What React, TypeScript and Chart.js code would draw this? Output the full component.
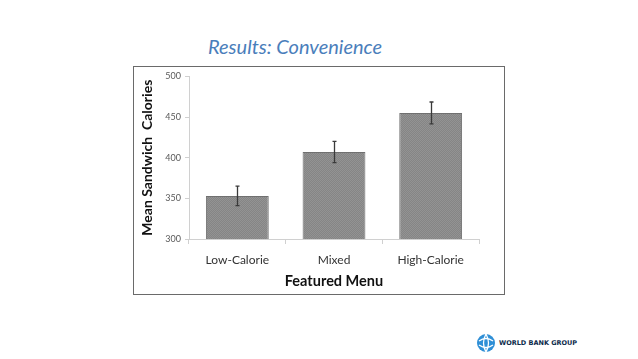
import React, { useEffect, useRef } from "react";
import { Chart, registerables } from "chart.js";

Chart.register(...registerables);

const categories = ["Low-Calorie", "Mixed", "High-Calorie"];
const meanCalories = [353, 407, 455];
const errorMargins = [12, 13, 13.5];
const yTicks = [300, 350, 400, 450, 500];

const FONT = "Lato, 'Open Sans', sans-serif";

function makePattern(): CanvasPattern | string {
  const c = document.createElement("canvas");
  c.width = 2;
  c.height = 2;
  const g = c.getContext("2d");
  if (!g) return "#8c8c8c";
  g.fillStyle = "#939393";
  g.fillRect(0, 0, 2, 2);
  g.fillStyle = "#858585";
  g.fillRect(0, 0, 1, 1);
  g.fillRect(1, 1, 1, 1);
  const p = g.createPattern(c, "repeat");
  return p || "#8c8c8c";
}

const errorBarPlugin = {
  id: "errorBars",
  afterDatasetsDraw(chart: any) {
    const { ctx, scales } = chart;
    const meta = chart.getDatasetMeta(0);
    const y = scales.y;
    ctx.save();
    ctx.strokeStyle = "#3a3a3a";
    ctx.lineWidth = 1.3;
    meta.data.forEach((bar: any, i: number) => {
      const v = meanCalories[i];
      const e = errorMargins[i];
      const x = Math.round(bar.x) + 0.5;
      const yt = y.getPixelForValue(v + e);
      const yb = y.getPixelForValue(v - e);
      ctx.beginPath();
      ctx.moveTo(x, yt);
      ctx.lineTo(x, yb);
      ctx.moveTo(x - 2, yt);
      ctx.lineTo(x + 2, yt);
      ctx.moveTo(x - 2, yb);
      ctx.lineTo(x + 2, yb);
      ctx.stroke();
    });
    ctx.restore();
  },
};

export default function App() {
  const ref = useRef<HTMLCanvasElement | null>(null);

  useEffect(() => {
    if (!ref.current) return;
    const chart = new Chart(ref.current, {
      type: "bar",
      data: {
        labels: categories,
        datasets: [
          {
            data: meanCalories,
            backgroundColor: makePattern() as any,
            borderColor: "#707070",
            borderWidth: 1,
            barPercentage: 0.65,
            categoryPercentage: 1,
          },
        ],
      },
      options: {
        animation: false,
        responsive: false,
        maintainAspectRatio: false,
        layout: { padding: { top: 8, right: 25, left: 0, bottom: 0 } },
        plugins: {
          legend: { display: false },
          tooltip: { enabled: false },
          title: { display: false },
        },
        scales: {
          x: {
            grid: {
              display: true,
              drawOnChartArea: false,
              drawTicks: true,
              tickLength: 5,
              color: "#d0d0d0",
              offset: true,
            },
            border: { display: true, color: "#d0d0d0" },
            ticks: {
              color: "#333333",
              font: { family: FONT, size: 12 },
              padding: 9,
            },
            title: {
              display: true,
              text: "Featured Menu",
              color: "#111111",
              font: { family: FONT, size: 14.5, weight: "bold" },
              padding: { top: 4, bottom: 5 },
            },
            afterFit: (s: any) => {
              s.height = 56;
            },
          },
          y: {
            min: 300,
            max: 500,
            afterBuildTicks: (s: any) => {
              s.ticks = yTicks.map((v) => ({ value: v }));
            },
            grid: {
              display: true,
              drawOnChartArea: false,
              drawTicks: true,
              tickLength: 4,
              color: "#d0d0d0",
            },
            border: { display: true, color: "#d0d0d0" },
            ticks: {
              color: "#595959",
              font: { family: FONT, size: 9 },
              padding: 4,
            },
            title: {
              display: true,
              text: "Mean Sandwich  Calories",
              color: "#111111",
              font: { family: FONT, size: 14, weight: "bold" },
              padding: { top: 5, bottom: 4 },
            },
            afterFit: (s: any) => {
              s.width = 55;
            },
          },
        },
      },
      plugins: [errorBarPlugin],
    } as any);
    return () => chart.destroy();
  }, []);

  return (
    <div
      style={{
        position: "absolute",
        left: 0,
        top: 0,
        width: 638,
        height: 359,
        background: "#ffffff",
        overflow: "hidden",
      }}
    >
      <div
        style={{
          position: "absolute",
          left: 0,
          top: 33,
          width: 590,
          textAlign: "center",
          fontFamily: FONT,
          fontStyle: "italic",
          fontSize: 20,
          color: "#4a7ebb",
          lineHeight: "26px",
        }}
      >
        Results: Convenience
      </div>
      <div
        style={{
          position: "absolute",
          left: 133,
          top: 66,
          width: 372,
          height: 229,
          border: "1px solid #6a6a6a",
          boxSizing: "border-box",
        }}
      />
      <canvas
        ref={ref}
        width={370}
        height={228}
        style={{ position: "absolute", left: 134, top: 67, width: 370, height: 228 }}
      />
      <div
        style={{
          position: "absolute",
          left: 476,
          top: 333,
          display: "flex",
          alignItems: "center",
          gap: 3,
        }}
      >
        <svg width={20} height={20} viewBox="0 0 20 20">
          <circle cx={10} cy={10} r={9} fill="#2f8fd6" />
          <path d="M3 8 Q10 3 17 8 M3 12 Q10 17 17 12 M10 1 Q5 10 10 19 M10 1 Q15 10 10 19" stroke="#ffffff" strokeWidth={1.3} fill="none" />
        </svg>
        <span
          style={{
            fontFamily: "'DejaVu Sans', sans-serif",
            fontWeight: "bold",
            fontSize: 6.5,
            color: "#0b2a4a",
            letterSpacing: 0,
          }}
        >
          WORLD BANK GROUP
        </span>
      </div>
    </div>
  );
}
